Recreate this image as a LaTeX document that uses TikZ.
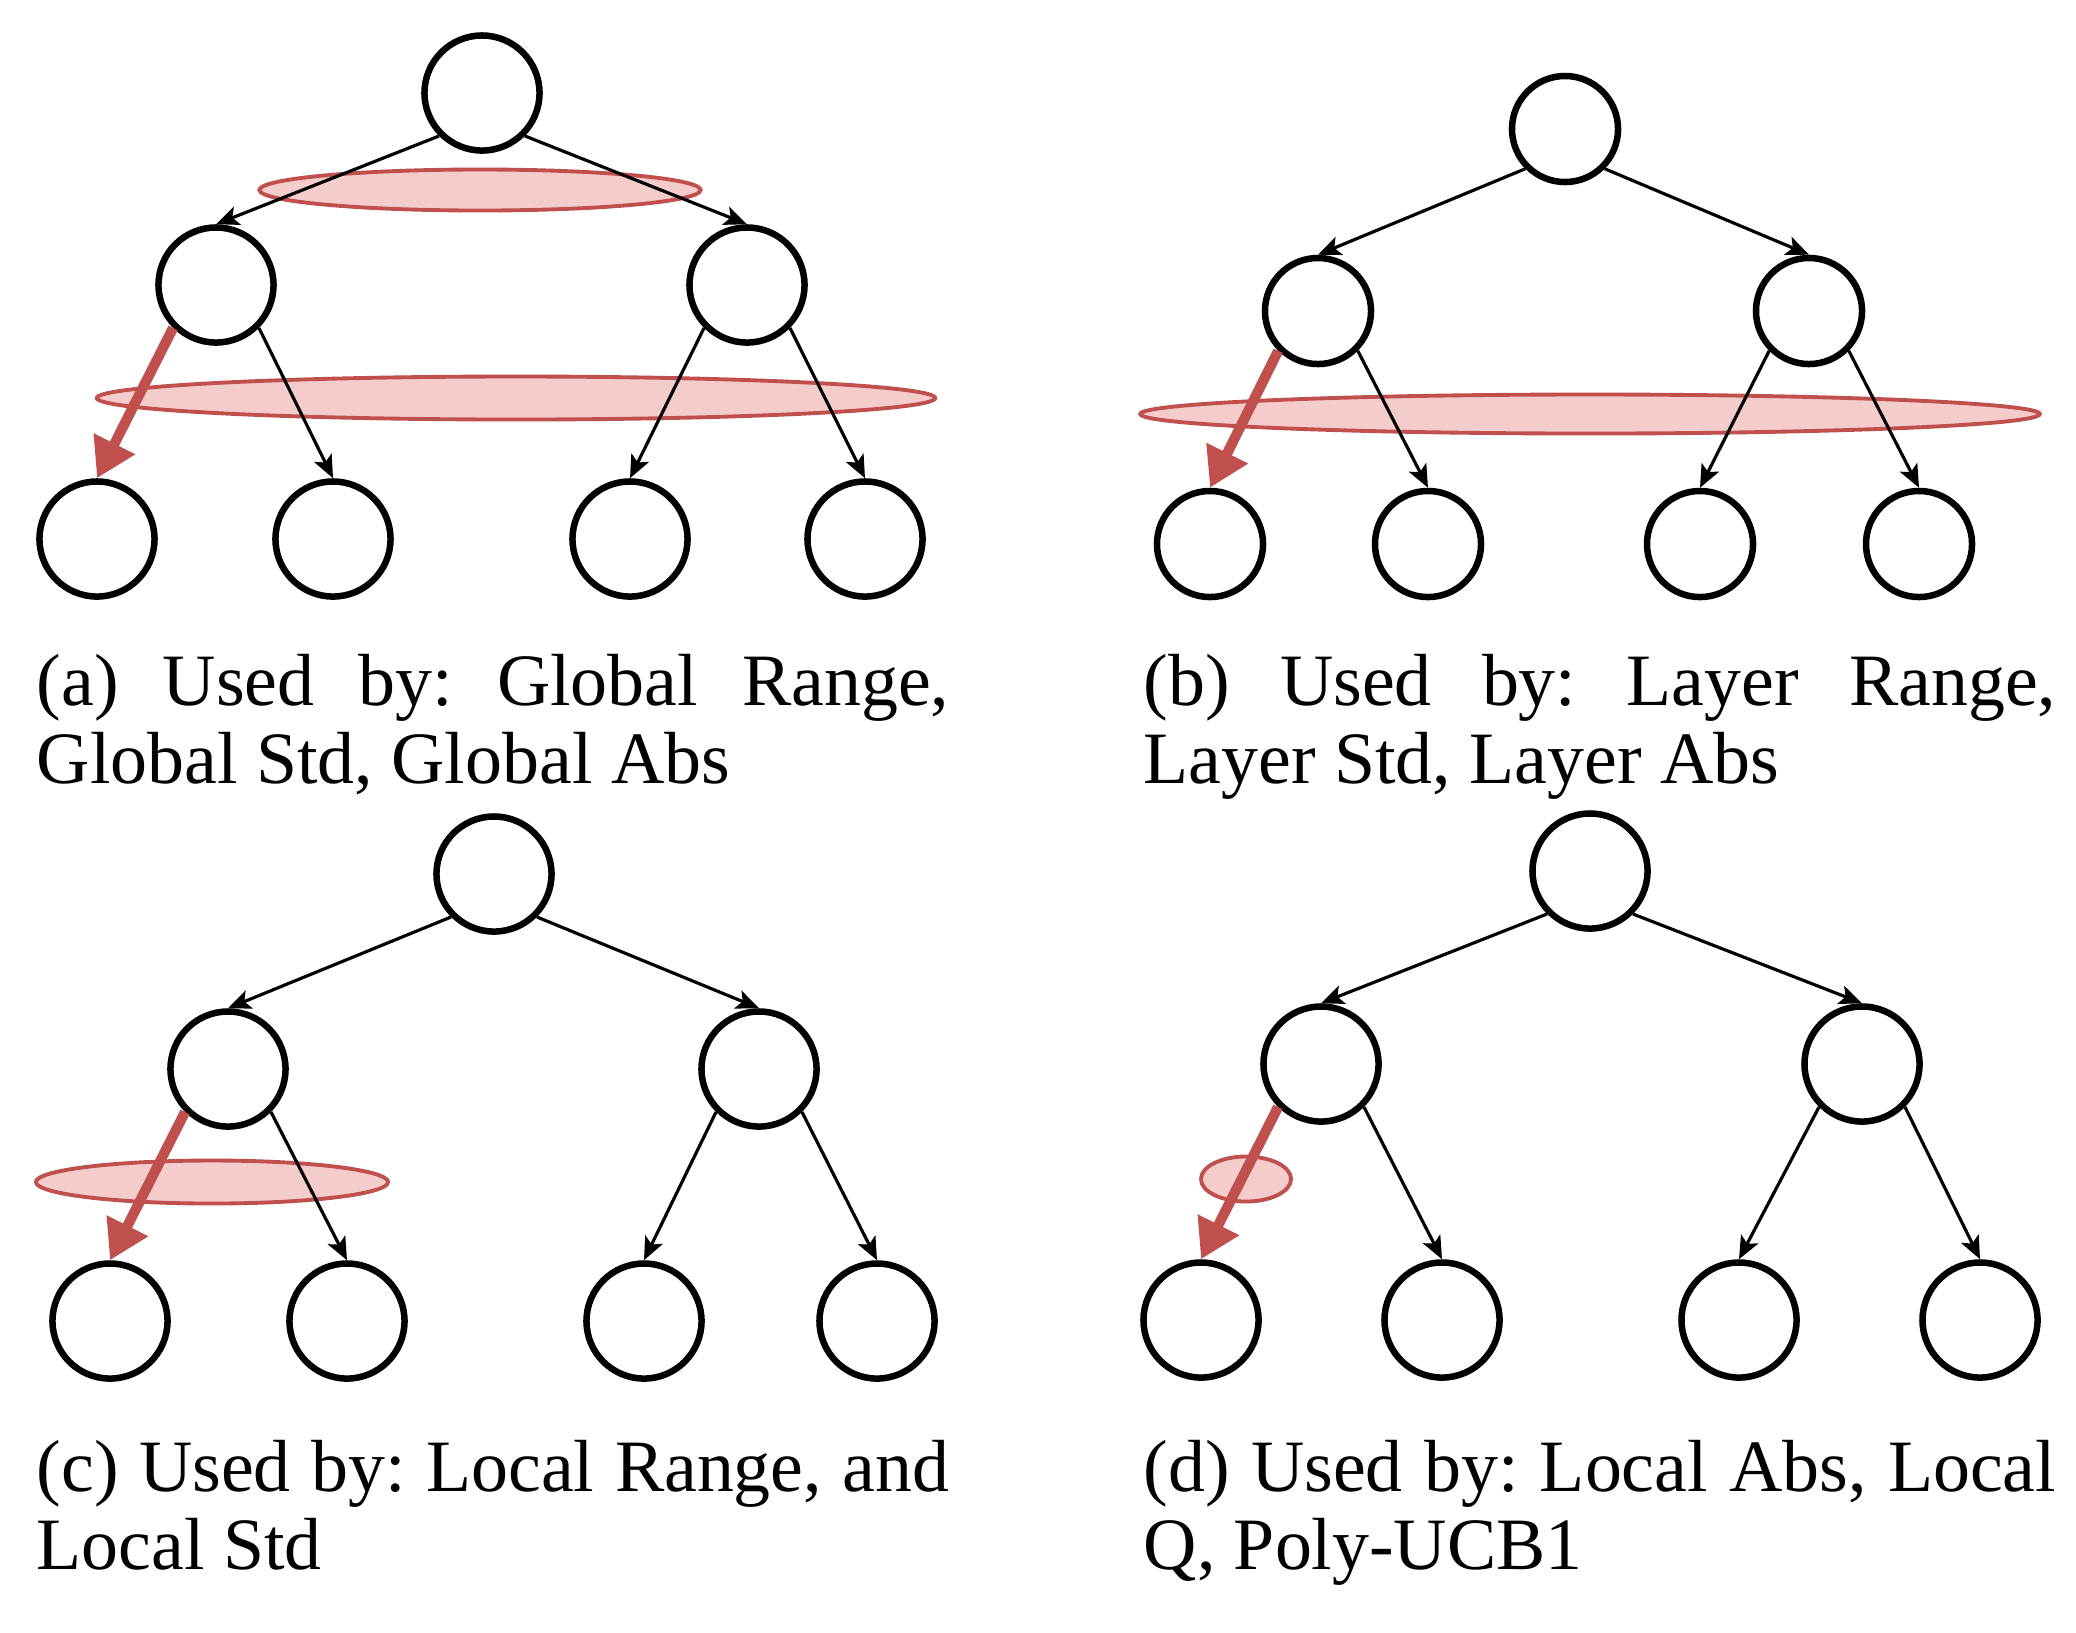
\documentclass[tikz,border=0pt]{standalone}
\usepackage{fontspec}
\setmainfont{Liberation Serif}
\usetikzlibrary{arrows.meta,shapes.geometric}
\definecolor{selred}{RGB}{192,80,77}
\definecolor{selpink}{RGB}{245,204,204}
\hyphenpenalty=10000
\frenchspacing

\begin{document}
\begin{tikzpicture}[x=0.01cm,y=-0.01cm,
  vertex/.style={circle,draw,line width=1.85pt,minimum size=1.15cm,inner sep=0pt},
  smallv/.style={minimum size=1.06cm},
  link/.style={-{Stealth[length=6.5pt,width=5.5pt,inset=1.5pt]},line width=0.9pt},
  pick/.style={draw=selred,line width=2.9pt,-{Triangle[length=11pt,width=12.5pt]}},
  band/.style={ellipse,draw=selred,fill=selpink,line width=1.1pt,inner sep=0pt},
  subcap/.style={anchor=base west,inner sep=0pt,text width=9.12cm,align=justify,font=\fontsize{21}{22.2}\selectfont}]
\useasboundingbox (0,0) rectangle (2076,1632);

\node[band,minimum width=4.41cm,minimum height=0.41cm] (bandA1) at (480,190) {};
\node[band,minimum width=8.38cm,minimum height=0.43cm] (bandA2) at (516,398) {};
\node[vertex] (rootA) at (482,93) {};
\node[vertex] (midA1) at (216,285) {};
\node[vertex] (midA2) at (747,285) {};
\node[vertex] (leafA1) at (97,539) {};
\node[vertex] (leafA2) at (333,539) {};
\node[vertex] (leafA3) at (630,539) {};
\node[vertex] (leafA4) at (865,539) {};
\draw[link] (rootA.south west) -- (midA1.north);
\draw[link] (rootA.south east) -- (midA2.north);
\draw[pick] (midA1.south west) -- (leafA1.north);
\draw[link] (midA1.south east) -- (leafA2.north);
\draw[link] (midA2.south west) -- (leafA3.north);
\draw[link] (midA2.south east) -- (leafA4.north);
\node[subcap] (capA) at (36,705) {(a) Used by: Global Range, Global Std, Global Abs};

\node[band,minimum width=8.99cm,minimum height=0.39cm] (bandB) at (1590,414) {};
\node[vertex,smallv] (rootB) at (1565,129) {};
\node[vertex,smallv] (midB1) at (1318,311) {};
\node[vertex,smallv] (midB2) at (1809,311) {};
\node[vertex,smallv] (leafB1) at (1210,544) {};
\node[vertex,smallv] (leafB2) at (1428,544) {};
\node[vertex,smallv] (leafB3) at (1700,544) {};
\node[vertex,smallv] (leafB4) at (1919,544) {};
\draw[link] (rootB.south west) -- (midB1.north);
\draw[link] (rootB.south east) -- (midB2.north);
\draw[pick] (midB1.south west) -- (leafB1.north);
\draw[link] (midB1.south east) -- (leafB2.north);
\draw[link] (midB2.south west) -- (leafB3.north);
\draw[link] (midB2.south east) -- (leafB4.north);
\node[subcap] (capB) at (1143,705) {(b) Used by: Layer Range, Layer Std, Layer Abs};

\node[band,minimum width=3.52cm,minimum height=0.43cm] (bandC) at (212,1182) {};
\node[vertex] (rootC) at (494,874) {};
\node[vertex] (midC1) at (228,1069) {};
\node[vertex] (midC2) at (759,1069) {};
\node[vertex] (leafC1) at (110,1321) {};
\node[vertex] (leafC2) at (347,1321) {};
\node[vertex] (leafC3) at (644,1321) {};
\node[vertex] (leafC4) at (877,1321) {};
\draw[link] (rootC.south west) -- (midC1.north);
\draw[link] (rootC.south east) -- (midC2.north);
\draw[pick] (midC1.south west) -- (leafC1.north);
\draw[link] (midC1.south east) -- (leafC2.north);
\draw[link] (midC2.south west) -- (leafC3.north);
\draw[link] (midC2.south east) -- (leafC4.north);
\node[subcap] (capC) at (36,1491) {(c) Used by: Local Range, and Local Std};

\node[band,minimum width=0.9cm,minimum height=0.45cm] (bandD) at (1246,1179) {};
\node[vertex] (rootD) at (1590,871) {};
\node[vertex] (midD1) at (1321,1064) {};
\node[vertex] (midD2) at (1862,1064) {};
\node[vertex] (leafD1) at (1201,1320) {};
\node[vertex] (leafD2) at (1442,1320) {};
\node[vertex] (leafD3) at (1739,1320) {};
\node[vertex] (leafD4) at (1980,1320) {};
\draw[link] (rootD.south west) -- (midD1.north);
\draw[link] (rootD.south east) -- (midD2.north);
\draw[pick] (midD1.south west) -- (leafD1.north);
\draw[link] (midD1.south east) -- (leafD2.north);
\draw[link] (midD2.south west) -- (leafD3.north);
\draw[link] (midD2.south east) -- (leafD4.north);
\node[subcap] (capD) at (1143,1491) {(d) Used by: Local Abs, Local Q, Poly-UCB1};
\end{tikzpicture}
\end{document}
